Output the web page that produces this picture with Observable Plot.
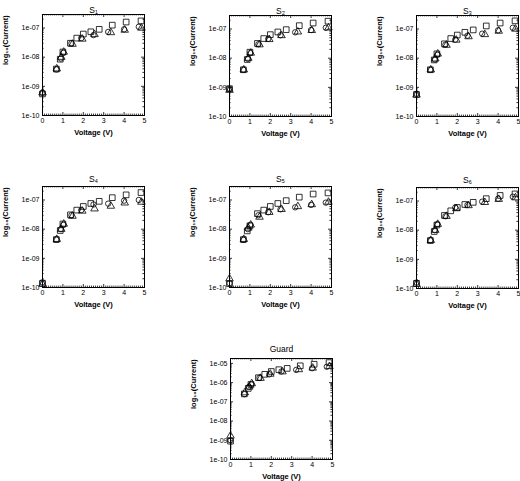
<!DOCTYPE html>
<html><head><meta charset="utf-8">
<script src="https://cdn.jsdelivr.net/npm/d3@7"></script>
<script src="https://cdn.jsdelivr.net/npm/@observablehq/plot@0.6"></script>
<style>
body{margin:0;background:#fff}
#c{position:relative;width:520px;height:481px;overflow:hidden;background:#fff}
#c > svg{position:absolute}
</style></head><body><div id="c"></div>
<script>
// ---- data ----
const panelNames = ["S₁","S₂","S₃","S₄","S₅","S₆","Guard"];
const xTicks = [0,1,2,3,4,5];
const yTicksSensor = [1e-10,1e-9,1e-8,1e-7];
const yTicksGuard = [1e-10,1e-9,1e-8,1e-7,1e-6,1e-5];
const sensorDomain = [1e-10, 2.9e-7];
const guardDomain = [1e-10, 1.8e-5];

const squareVolts   = [0, 0.68, 0.87, 1.0, 1.37, 1.68, 2.0, 2.37, 2.78, 3.42, 4.1, 4.83];
const circleVolts   = [0, 0.68, 0.9, 1.02, 1.42, 1.9, 2.5, 3.22, 4.0, 4.72];
const triangleVolts = [0, 0.7, 0.92, 1.04, 1.47, 1.95, 2.55, 3.35, 4.03, 4.85];

const s1Square   = [5.5e-10, 3.9e-9, 8.5e-9, 1.5e-8, 3.0e-8, 4.5e-8, 6.2e-8, 7.4e-8, 9.0e-8, 1.25e-7, 1.6e-7, 1.75e-7];
const s1Circle   = [6e-10, 3.8e-9, 9e-9, 1.4e-8, 3.0e-8, 4.5e-8, 5.7e-8, 7.3e-8, 9.0e-8, 1.1e-7];
const s1Triangle = [6e-10, 4e-9, 1e-8, 1.5e-8, 2.8e-8, 4.2e-8, 6e-8, 7e-8, 8.5e-8, 1.0e-7];

const s2Square   = [9e-10, 4e-9, 9e-9, 1.6e-8, 3.2e-8, 4.7e-8, 6.4e-8, 7.9e-8, 9.5e-8, 1.3e-7, 1.6e-7, 1.85e-7];
const s2Circle   = [9e-10, 4e-9, 9.5e-9, 1.5e-8, 3.0e-8, 4.6e-8, 6.1e-8, 7.7e-8, 9.2e-8, 1.1e-7];
const s2Triangle = [8e-10, 4e-9, 1e-8, 1.5e-8, 2.9e-8, 4.4e-8, 6e-8, 8e-8, 9e-8, 1.1e-7];

const s3Square   = [5.7e-10, 4e-9, 8.7e-9, 1.4e-8, 3.1e-8, 4.7e-8, 6.2e-8, 7.7e-8, 9.3e-8, 1.27e-7, 1.6e-7, 1.9e-7];
const s3Circle   = [6e-10, 4e-9, 9e-9, 1.3e-8, 2.9e-8, 4.3e-8, 5.9e-8, 6.9e-8, 9.0e-8, 1.1e-7];
const s3Triangle = [5.5e-10, 4e-9, 9.5e-9, 1.4e-8, 2.8e-8, 4.2e-8, 5.5e-8, 6.5e-8, 8.5e-8, 1.0e-7];

const s4Square   = [1.4e-10, 4.4e-9, 9e-9, 1.5e-8, 3.1e-8, 4.5e-8, 6e-8, 7.6e-8, 9e-8, 1.2e-7, 1.5e-7, 1.8e-7];
const s4Circle   = [1.5e-10, 4.4e-9, 1e-8, 1.4e-8, 3.0e-8, 4.5e-8, 7e-8, 7.5e-8, 9.5e-8, 1.0e-7];
const s4Triangle = [1.3e-10, 4.5e-9, 1e-8, 1.5e-8, 2.8e-8, 4.2e-8, 5e-8, 6.2e-8, 8e-8, 8.5e-8];

const s5Square   = [1.35e-10, 4.4e-9, 8.7e-9, 1.3e-8, 3.4e-8, 4.5e-8, 6e-8, 7.6e-8, 9.5e-8, 1.25e-7, 1.6e-7, 1.75e-7];
const s5Circle   = [1.4e-10, 4.3e-9, 1e-8, 1.4e-8, 3.0e-8, 3.8e-8, 4.8e-8, 5.6e-8, 6.8e-8, 8.1e-8];
const s5Triangle = [2e-10, 4.5e-9, 1.1e-8, 1.4e-8, 2.6e-8, 3.8e-8, 4.8e-8, 6e-8, 7e-8, 8.5e-8];

const s6Square   = [1.5e-10, 4.4e-9, 9e-9, 1.5e-8, 3.2e-8, 4.6e-8, 6e-8, 7.6e-8, 9e-8, 1.2e-7, 1.55e-7, 1.75e-7];
const s6Circle   = [1.6e-10, 4.5e-9, 1e-8, 1.6e-8, 3.0e-8, 6e-8, 7.3e-8, 9.5e-8, 1.2e-7, 1.4e-7];
const s6Triangle = [1.4e-10, 4.5e-9, 1e-8, 1.6e-8, 3.0e-8, 5.5e-8, 7e-8, 9e-8, 1.15e-7, 1.3e-7];

const guardSquare   = [9e-10, 2.6e-7, 5e-7, 8e-7, 1.8e-6, 2.7e-6, 3.8e-6, 4.7e-6, 5.5e-6, 7.5e-6, 9e-6, 1.1e-5];
const guardCircle   = [1e-9, 2.5e-7, 6e-7, 8e-7, 1.8e-6, 2.7e-6, 3.8e-6, 4.6e-6, 5.6e-6, 6.7e-6];
const guardTriangle = [1.7e-9, 3e-7, 6e-7, 9e-7, 1.7e-6, 2.8e-6, 3.7e-6, 4.8e-6, 5.8e-6, 7e-6];

// ---- layout ----
const panels = [
  {name: panelNames[0], sq: s1Square, ci: s1Circle, tr: s1Triangle, left: 0,   frameTop: 14,  titleDy: -8},
  {name: panelNames[1], sq: s2Square, ci: s2Circle, tr: s2Triangle, left: 187, frameTop: 15,  titleDy: -7.5},
  {name: panelNames[2], sq: s3Square, ci: s3Circle, tr: s3Triangle, left: 374, frameTop: 15,  titleDy: -7.5},
  {name: panelNames[3], sq: s4Square, ci: s4Circle, tr: s4Triangle, left: 0,   frameTop: 186, titleDy: -11},
  {name: panelNames[4], sq: s5Square, ci: s5Circle, tr: s5Triangle, left: 187, frameTop: 186, titleDy: -11},
  {name: panelNames[5], sq: s6Square, ci: s6Circle, tr: s6Triangle, left: 374, frameTop: 187, titleDy: -11},
  {name: panelNames[6], sq: guardSquare, ci: guardCircle, tr: guardTriangle, left: 188, frameTop: 358, titleDy: -12.5, guard: true}
];

const fmt = d => "1e-" + String(Math.round(-Math.log10(d))).padStart(2, "0");
const FW = 102, FH = 101, MT = 20, MB = 32, ML = 42, MR = 2;
const font = "Liberation Sans, Arial, Helvetica, sans-serif";

function makePanel(p) {
  const domain = p.guard ? guardDomain : sensorDomain;
  const ticks = p.guard ? yTicksGuard : yTicksSensor;
  const minors = [];
  for (let e = -10; e < Math.ceil(Math.log10(domain[1])); e++)
    for (let m = 2; m < 10; m++) { const t = m * 10 ** e; if (t < domain[1]) minors.push(t); }
  const inner = xTicks.filter(d => d > xTicks[0] && d < xTicks[xTicks.length - 1]);
  const xMinor = d3.range(1, 50).map(i => i / 10).filter(d => Math.abs(d - Math.round(d)) > 1e-6);
  const sq = p.sq.map((I, i) => ({v: squareVolts[i], I}));
  const ci = p.ci.map((I, i) => ({v: circleVolts[i], I}));
  const tr = p.tr.map((I, i) => ({v: triangleVolts[i], I}));
  const mk = {stroke: "black", strokeWidth: 0.8};
  const svg = Plot.plot({
    width: ML + FW + MR, height: MT + FH + MB,
    marginLeft: ML, marginRight: MR, marginTop: MT, marginBottom: MB,
    style: {fontFamily: font, fontSize: "7px", background: "white", color: "black", overflow: "visible"},
    x: {domain: [0, 5]},
    y: {type: "log", domain},
    marks: [
      Plot.tickY(ticks, {y: d => d, insetRight: FW - 3, ...mk}),
      Plot.tickY(ticks, {y: d => d, insetLeft: FW - 3, ...mk}),
      Plot.tickY(minors, {y: d => d, insetRight: FW - 1.6, ...mk}),
      Plot.tickY(minors, {y: d => d, insetLeft: FW - 1.6, ...mk}),
      Plot.tickX(inner, {x: d => d, insetTop: FH - 3, ...mk}),
      Plot.tickX(inner, {x: d => d, insetBottom: FH - 3, ...mk}),
      Plot.tickX(xMinor, {x: d => d, insetTop: FH - 1.4, ...mk}),
      Plot.tickX(xMinor, {x: d => d, insetBottom: FH - 1.4, ...mk}),
      Plot.axisY(ticks, {tickFormat: fmt, tickSize: 0, tickPadding: 3, label: null, fontSize: 7}),
      Plot.axisX(xTicks, {tickSize: 0, tickPadding: 3, label: null, fontSize: 7}),
      Plot.dot(sq, {x: "v", y: "I", symbol: "square", r: 3.2, fill: "none", ...mk}),
      Plot.dot(ci, {x: "v", y: "I", symbol: "circle", r: 2.7, fill: "none", ...mk}),
      Plot.dot(tr, {x: "v", y: "I", symbol: "triangle", r: 2.8, fill: "none", ...mk}),
      Plot.frame({stroke: "black", strokeWidth: 1}),
      Plot.text([p.name], {text: d => d, frameAnchor: "top", dy: p.titleDy, fontSize: 8.5}),
      Plot.text(["Voltage (V)"], {text: d => d, frameAnchor: "bottom", dy: 19, fontSize: 7.5, fontWeight: "bold"}),
      Plot.text(["log₁₀(Current)"], {text: d => d, frameAnchor: "left", dx: -37, rotate: -90, fontSize: 7.5, fontWeight: "bold"})
    ]
  });
  svg.style.left = p.left + "px";
  svg.style.top = (p.frameTop - MT) + "px";
  return svg;
}

const c = document.getElementById("c");
panels.forEach(p => c.appendChild(makePanel(p)));
</script>
</body></html>
